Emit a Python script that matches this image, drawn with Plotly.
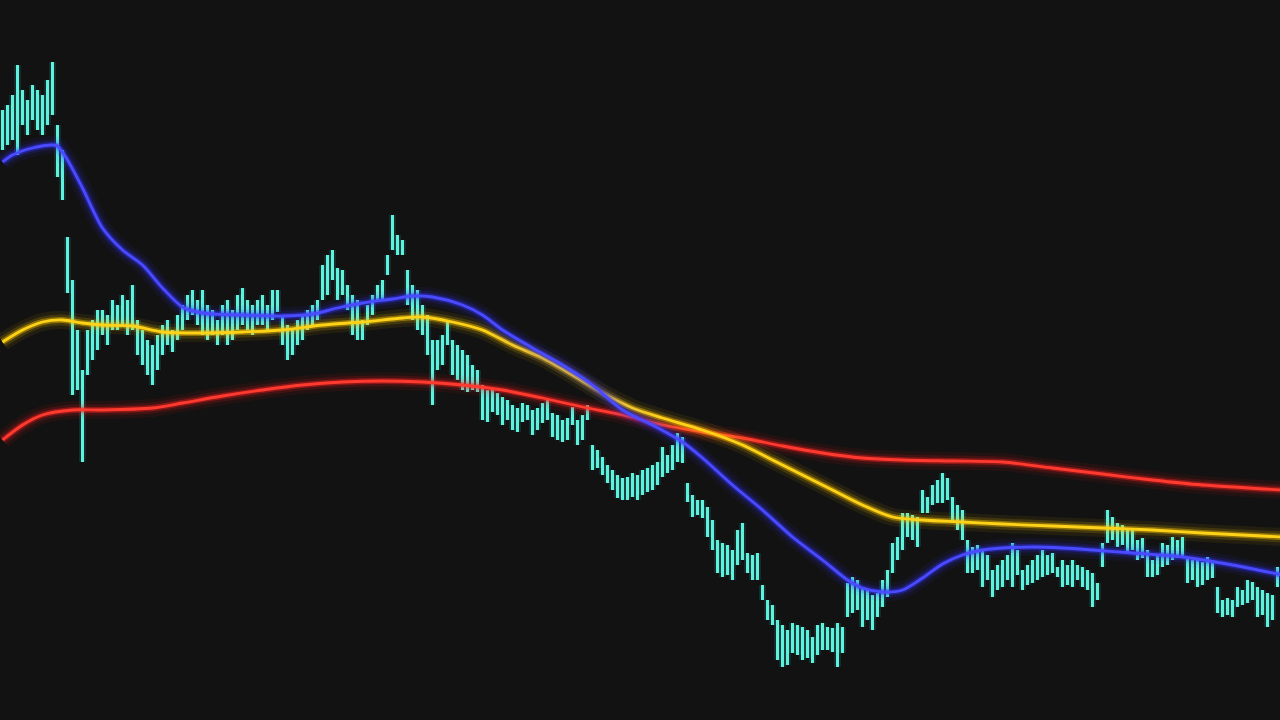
import plotly.graph_objects as go

# ---- price bars (high / low), one per period ----
bar_high = [
    610,615,625,655,630,620,635,630,625,640,
    658,595,570,483,440,390,350,390,400,410,
    410,405,420,415,425,420,435,400,390,380,
    375,385,395,400,390,405,415,425,430,420,
    430,415,410,400,415,420,410,425,432,420,
    415,420,425,415,430,430,405,395,390,400,
    405,410,415,420,455,465,470,452,450,435,
    425,420,400,415,425,435,440,465,505,485,
    480,450,435,430,415,405,380,380,385,398,
    380,375,370,365,355,350,335,330,330,327,
    323,320,315,312,317,315,310,312,317,320,
    307,305,300,302,313,300,305,315,275,270,
    263,255,250,245,242,243,247,245,250,252,
    255,258,273,265,275,287,283,237,225,220,
    220,213,200,180,177,175,170,190,197,167,
    165,167,135,120,115,100,95,90,97,95,
    93,90,83,95,97,93,92,97,93,137,
    143,140,133,130,125,127,140,150,177,183,
    207,207,205,203,230,223,235,240,247,242,
    223,215,210,180,173,175,170,165,150,155,
    160,165,177,170,150,155,160,165,170,165,
    167,153,160,155,160,155,153,150,147,137,
    177,210,203,197,195,190,192,180,182,170,
    160,165,177,175,183,180,183,163,160,160,
    158,163,160,133,120,122,120,133,130,140,
    138,133,130,127,125,153,
]
bar_low = [
    570,575,580,565,595,585,600,590,585,595,
    605,543,520,427,325,330,258,345,360,370,
    385,375,390,390,395,385,390,365,355,345,
    335,350,365,375,368,380,390,400,405,395,
    385,380,385,375,385,375,380,390,395,390,
    385,395,395,390,400,408,375,360,365,375,
    380,390,395,400,420,425,440,420,425,410,
    385,380,380,395,405,420,420,445,470,465,
    465,415,400,390,385,365,315,350,355,375,
    345,340,330,328,330,328,300,298,308,305,
    295,300,290,288,298,300,285,290,297,300,
    283,280,278,280,295,275,280,300,250,252,
    245,237,230,222,220,220,223,220,225,228,
    230,235,243,247,250,258,257,218,203,205,
    202,183,170,147,143,145,140,155,160,147,
    140,140,120,100,95,60,53,55,67,65,
    60,62,57,65,70,70,68,53,67,103,
    107,110,93,100,90,103,113,123,147,160,
    170,183,180,173,207,207,215,217,217,220,
    197,190,180,147,147,150,133,140,123,130,
    133,140,133,145,130,135,137,140,143,145,
    147,143,133,135,133,140,133,130,113,120,
    153,177,180,173,175,167,170,160,162,143,
    143,145,153,155,160,162,163,137,140,133,
    135,140,142,107,103,105,103,113,115,117,
    120,103,105,93,100,133,
]
periods = list(range(len(bar_high)))

# ---- moving averages (period, value) ----
fast_x = [0,2,6,10,11,13,16,20,24,28,32,36,40,48,56,62,67,72,78,82,86,92,96,100,106,112,118,124,130,136,140,146,152,158,164,169,172,176,180,184,188,192,196,200,206,212,218,226,236,246,256]
fast_y = [558,565,572,575,574,560,532,492,470,455,432,413,407,405,404,406,412,417,421,424,423,415,405,390,372,355,335,310,295,278,262,235,210,183,160,140,132,128,130,142,156,165,170,172,173,172,170,167,163,155,145]

mid_x = [0,4,8,12,16,20,26,32,40,48,56,64,72,80,84,90,96,102,108,114,120,126,132,140,148,154,160,166,172,178,184,192,200,210,220,230,240,256]
mid_y = [378,390,398,400,397,395,394,388,387,388,390,395,398,402,403,398,390,375,362,345,327,312,302,290,275,260,245,230,215,203,200,198,196,194,192,190,187,183]

slow_x = [0,4,8,14,20,30,36,44,52,60,68,76,84,92,100,108,116,124,132,140,148,156,164,172,180,190,200,210,220,230,240,256]
slow_y = [280,295,305,310,310,312,317,324,330,335,338,339,338,335,330,322,313,305,295,288,282,274,267,262,260,259,258,252,246,240,235,230]

fig = go.Figure()

bar_span = [h - l for h, l in zip(bar_high, bar_low)]
# glow of bars
fig.add_trace(go.Bar(
    x=periods, y=bar_span, base=bar_low,
    width=1.3, marker=dict(color="rgba(60,230,210,0.12)", line=dict(width=0)),
    hoverinfo="skip"))
fig.add_trace(go.Bar(
    x=periods, y=bar_span, base=bar_low,
    width=0.55, marker=dict(color="#5cf2de", line=dict(width=0)),
    hoverinfo="skip"))

def glow_line(xs, ys, rgb, core):
    r, g, b = rgb
    for w, a in [(18, 0.07), (11, 0.15), (6, 0.4)]:
        fig.add_trace(go.Scatter(x=xs, y=ys, mode="lines",
                                 line=dict(color=f"rgba({r},{g},{b},{a})", width=w, shape="spline", smoothing=0.8),
                                 hoverinfo="skip"))
    fig.add_trace(go.Scatter(x=xs, y=ys, mode="lines",
                             line=dict(color=core, width=2.8, shape="spline", smoothing=0.8),
                             hoverinfo="skip"))

glow_line(slow_x, slow_y, (255, 30, 30), "#ff3b30")
glow_line(mid_x, mid_y, (255, 200, 0), "#ffd21a")
glow_line(fast_x, fast_y, (50, 50, 255), "#4a4aff")

fig.update_layout(
    width=1280, height=720,
    margin=dict(l=0, r=0, t=0, b=0),
    paper_bgcolor="#121212", plot_bgcolor="#121212",
    showlegend=False, barmode="overlay", bargap=0,
    xaxis=dict(range=[-0.5, 255.5], visible=False, showgrid=False, zeroline=False),
    yaxis=dict(range=[0, 720], visible=False, showgrid=False, zeroline=False),
)

fig.write_html(
    "out.html",
    config={"displayModeBar": False},
    post_script="document.body.style.margin='0';document.body.style.background='#121212';",
)
